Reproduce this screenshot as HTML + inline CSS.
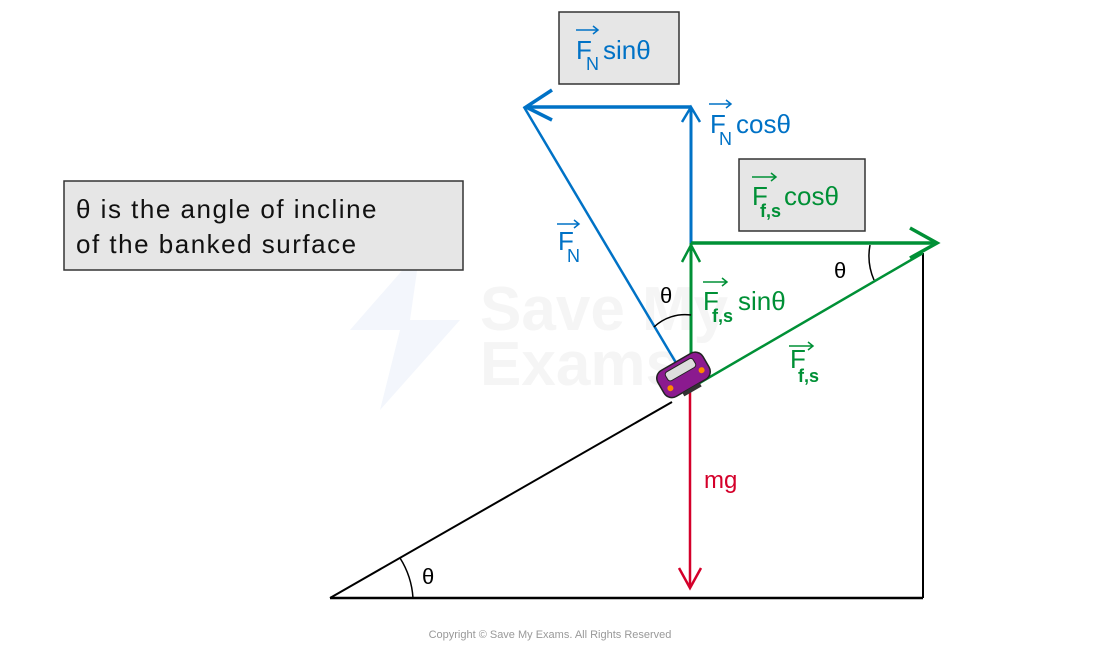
<!DOCTYPE html>
<html><head><style>
body{margin:0;background:#fff;}
svg text{font-family:"Liberation Sans","DejaVu Sans",sans-serif;}
</style></head><body>
<svg width="1100" height="646" viewBox="0 0 1100 646" xmlns="http://www.w3.org/2000/svg">
<!-- watermark -->
<text x="480" y="330" font-size="62" font-weight="bold" fill="#f5f5f5">Save My</text>
<text x="480" y="385" font-size="62" font-weight="bold" fill="#f5f5f5">Exams</text>
<polygon points="420,250 350,330 400,330 380,410 460,320 410,320" fill="#f3f6fc"/>
<!-- left box -->
<rect x="64" y="181" width="399" height="89" fill="#e6e6e6" stroke="#333" stroke-width="1.5"/>
<text x="76" y="218" font-size="26" fill="#111" letter-spacing="1.5">θ is the angle of incline</text>
<text x="76" y="253" font-size="26" fill="#111" letter-spacing="1.5">of the banked surface</text>
<!-- triangle -->
<line x1="330" y1="598" x2="672" y2="402" stroke="#000" stroke-width="2"/>
<line x1="330" y1="598" x2="923" y2="598" stroke="#000" stroke-width="2.5"/>
<line x1="923" y1="598" x2="923" y2="253" stroke="#000" stroke-width="2"/>
<path d="M400,558 A85,85 0 0 1 413,598" fill="none" stroke="#000" stroke-width="1.5"/>
<text x="422" y="584" font-size="22" fill="#000">θ</text>
<!-- red mg -->
<line x1="690" y1="388" x2="690" y2="588" stroke="#d4002a" stroke-width="2.5"/>
<polyline points="679,568 690,588 701,568" fill="none" stroke="#d4002a" stroke-width="2.5"/>
<text x="704" y="488" font-size="24" fill="#d4002a">mg</text>
<!-- blue -->
<line x1="691" y1="388" x2="524" y2="107" stroke="#0072c6" stroke-width="2.5"/>
<line x1="691" y1="388" x2="691" y2="107" stroke="#0072c6" stroke-width="3"/>
<polyline points="682,122 691,107 700,122" fill="none" stroke="#0072c6" stroke-width="2.5"/>
<line x1="691" y1="107" x2="526" y2="107" stroke="#0072c6" stroke-width="3.5"/>
<polyline points="552,90 526,107 552,120" fill="none" stroke="#0072c6" stroke-width="3.5"/>
<!-- green -->
<line x1="691" y1="388" x2="923" y2="253" stroke="#009036" stroke-width="2.5"/>
<line x1="691" y1="388" x2="691" y2="243" stroke="#009036" stroke-width="3"/>
<polyline points="682,262 691,245 700,262" fill="none" stroke="#009036" stroke-width="2.5"/>
<line x1="691" y1="243" x2="936" y2="243" stroke="#009036" stroke-width="3.5"/>
<polyline points="910,228 937,243 910,258" fill="none" stroke="#009036" stroke-width="3.5"/>
<!-- angle arcs -->
<path d="M654,327 A45,45 0 0 1 691,315" fill="none" stroke="#000" stroke-width="1.5"/>
<text x="660" y="303" font-size="22" fill="#000">θ</text>
<path d="M870,245 A60,60 0 0 0 874,280" fill="none" stroke="#000" stroke-width="1.5"/>
<text x="834" y="278" font-size="22" fill="#000">θ</text>
<!-- car -->
<g transform="translate(683,374) rotate(-30)">
<rect x="-26" y="-14" width="52" height="30" rx="9" fill="#8b1a8f" stroke="#222" stroke-width="1.5"/>
<rect x="-16" y="-10" width="32" height="10" rx="3" fill="#ddd" stroke="#222"/>
<circle cx="-18" cy="6" r="3" fill="#f80"/><circle cx="18" cy="6" r="3" fill="#f80"/>
<rect x="-10" y="16" width="20" height="4" fill="#333"/>
</g>
<!-- labels boxes -->
<rect x="559" y="12" width="120" height="72" fill="#e6e6e6" stroke="#333" stroke-width="1.5"/>
<text x="576" y="59" font-size="26" fill="#0072c6">F</text>
<text x="586" y="70" font-size="18" fill="#0072c6">N</text>
<text x="603" y="59" font-size="26" fill="#0072c6">sinθ</text>
<path d="M576,30 h22 m-5,-4 l5,4 l-5,4" fill="none" stroke="#0072c6" stroke-width="1.5"/>
<text x="710" y="133" font-size="26" fill="#0072c6">F</text>
<text x="719" y="145" font-size="18" fill="#0072c6">N</text>
<text x="736" y="133" font-size="26" fill="#0072c6">cosθ</text>
<path d="M709,104 h22 m-5,-4 l5,4 l-5,4" fill="none" stroke="#0072c6" stroke-width="1.5"/>
<text x="558" y="250" font-size="26" fill="#0072c6">F</text>
<text x="567" y="262" font-size="18" fill="#0072c6">N</text>
<path d="M557,224 h22 m-5,-4 l5,4 l-5,4" fill="none" stroke="#0072c6" stroke-width="1.5"/>
<rect x="739" y="159" width="126" height="72" fill="#e6e6e6" stroke="#333" stroke-width="1.5"/>
<text x="752" y="205" font-size="26" fill="#009036">F</text>
<text x="760" y="217" font-size="18" fill="#009036" font-weight="bold">f,s</text>
<text x="784" y="205" font-size="26" fill="#009036">cosθ</text>
<path d="M752,177 h24 m-5,-4 l5,4 l-5,4" fill="none" stroke="#009036" stroke-width="1.5"/>
<text x="703" y="310" font-size="26" fill="#009036">F</text>
<text x="712" y="322" font-size="18" fill="#009036" font-weight="bold">f,s</text>
<text x="738" y="310" font-size="26" fill="#009036">sinθ</text>
<path d="M703,282 h24 m-5,-4 l5,4 l-5,4" fill="none" stroke="#009036" stroke-width="1.5"/>
<text x="790" y="368" font-size="26" fill="#009036">F</text>
<text x="798" y="382" font-size="18" fill="#009036" font-weight="bold">f,s</text>
<path d="M789,346 h24 m-5,-4 l5,4 l-5,4" fill="none" stroke="#009036" stroke-width="1.5"/>
<text x="550" y="638" font-size="11" fill="#999" text-anchor="middle">Copyright © Save My Exams. All Rights Reserved</text>
</svg>
</body></html>
